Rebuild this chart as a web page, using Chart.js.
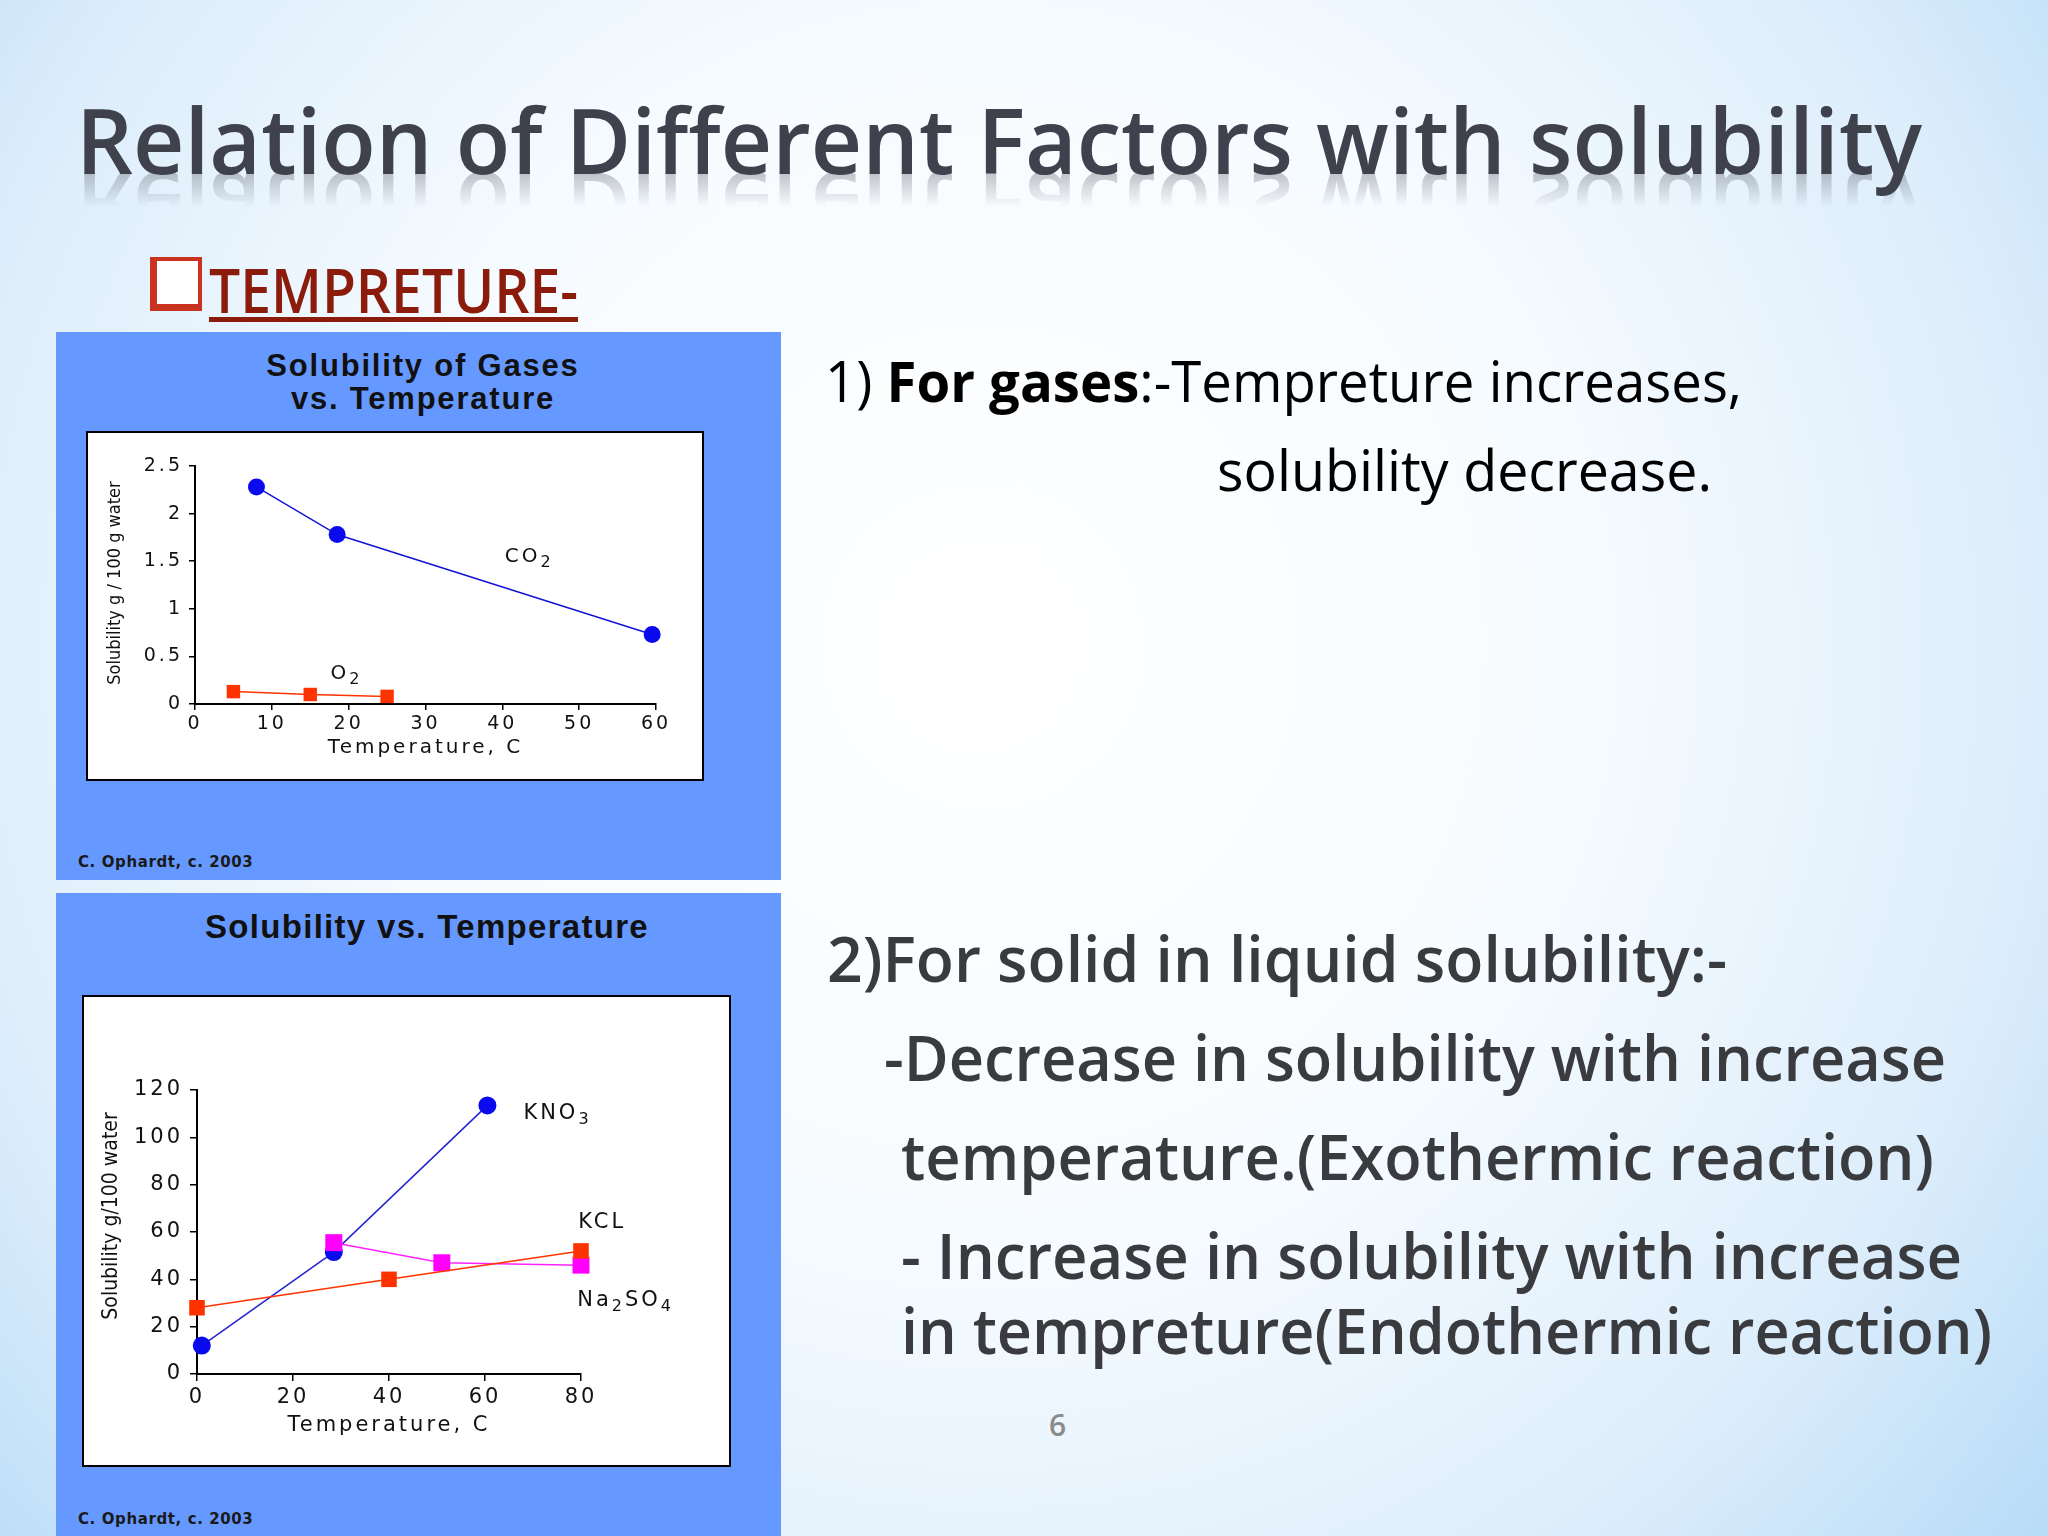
<!DOCTYPE html>
<html>
<head>
<meta charset="utf-8">
<script src="https://cdn.jsdelivr.net/npm/chart.js@4.4.0/dist/chart.umd.min.js"></script>
<style>
  html, body { margin: 0; padding: 0; }
  body {
    width: 2048px; height: 1536px; position: relative; overflow: hidden;
    font-family: "Open Sans", sans-serif;
    background: radial-gradient(ellipse 74% 100% at 48% 42%, #ffffff 0%, #f6fbff 40%, #dcedfb 70%, #a7d4f6 100%);
  }
  .t { position: absolute; white-space: nowrap; line-height: 1; transform-origin: 0 0; }
  .panel { position: absolute; background: #6699ff; }
  .box { position: absolute; background: #fff; border: 2px solid #000; box-sizing: border-box; }
  .box canvas { position: absolute; left: 0; top: 0; }
  .ctitle { position: absolute; text-align: center; font-family: "Liberation Sans", Arial, sans-serif; font-weight: bold; color: #111; line-height: 1; }
  .credit { position: absolute; font-family: "DejaVu Sans", sans-serif; font-size: 15px; font-weight: bold; letter-spacing: 0.6px; color: #1a1a1a; line-height: 1; }
</style>
</head>
<body>

<div class="t" id="title" style="left:76px;top:94px;font-size:90px;font-weight:600;color:#3f424c;-webkit-box-reflect: below -22px linear-gradient(transparent 50%, rgba(0,0,0,0.4));">Relation of Different Factors with solubility</div>

<div style="position:absolute;left:150px;top:257px;width:52px;height:54px;box-sizing:border-box;border:4px solid #c8321e;border-left-width:7px;border-bottom-width:7px;background:#fff;"></div>
<div class="t" id="temp" style="left:209px;top:258px;font-size:62px;font-weight:600;color:#8b1c0c;">TEMPRETURE-</div>
<div style="position:absolute;left:209px;top:317px;width:369px;height:5px;background:#8b1c0c;"></div>

<div class="panel" style="left:56px;top:332px;width:725px;height:548px;"></div>
<div class="ctitle" style="left:123px;top:350px;width:600px;font-size:31px;letter-spacing:1.8px;">Solubility of Gases</div>
<div class="ctitle" style="left:123px;top:383px;width:600px;font-size:31px;letter-spacing:1.8px;">vs. Temperature</div>
<div class="box" style="left:86px;top:431px;width:618px;height:350px;"><canvas id="gasChart" width="614" height="346"></canvas></div>
<div class="credit" style="left:78px;top:855px;">C. Ophardt, c. 2003</div>

<div class="panel" style="left:56px;top:893px;width:725px;height:643px;"></div>
<div class="ctitle" style="left:127px;top:910px;width:600px;font-size:33px;letter-spacing:1.3px;">Solubility vs. Temperature</div>
<div class="box" style="left:82px;top:995px;width:649px;height:472px;"><canvas id="solidChart" width="645" height="468"></canvas></div>
<div class="credit" style="left:78px;top:1512px;">C. Ophardt, c. 2003</div>

<div class="t" id="l1" style="left:825px;top:352px;font-size:56px;color:#000;">1) <b>For gases</b>:-Tempreture increases,</div>
<div class="t" id="l2" style="left:1217px;top:441px;font-size:56px;color:#000;">solubility decrease.</div>

<div class="t" id="s1" style="left:827px;top:926px;font-size:63px;font-weight:600;color:#3a3b3e;">2)For solid in liquid solubility:-</div>
<div class="t" id="s2" style="left:884px;top:1025px;font-size:63px;font-weight:600;color:#3a3b3e;">-Decrease in solubility with increase</div>
<div class="t" id="s3" style="left:901px;top:1124px;font-size:63px;font-weight:600;color:#3a3b3e;">temperature.(Exothermic reaction)</div>
<div class="t" id="s4" style="left:901px;top:1223px;font-size:63px;font-weight:600;color:#3a3b3e;">- Increase in solubility with increase</div>
<div class="t" id="s5" style="left:901px;top:1298px;font-size:63px;font-weight:600;color:#3a3b3e;">in tempreture(Endothermic reaction)</div>
<div class="t" style="left:1049px;top:1410px;font-size:30px;font-weight:600;color:#8a8a8a;">6</div>

<script>
// gases chart data
const co2Temp = [8, 18.5, 59.5];
const co2Sol = [2.28, 1.78, 0.73];
const o2Temp = [5, 15, 25];
const o2Sol = [0.13, 0.10, 0.08];
const gasLabels = [
  { text: 'CO_2', x: 43.5, y: 1.55 },
  { text: 'O_2', x: 19.7, y: 0.32 }
];

// solids chart data
const kno3Temp = [1, 28.5, 60.5];
const kno3Sol = [12, 51.5, 113.5];
const kclTemp = [0, 40, 80];
const kclSol = [28, 40, 52];
const na2so4Temp = [28.5, 51, 80];
const na2so4Sol = [55.5, 47, 46];
const solidLabels = [
  { text: 'KNO_3', x: 75.1, y: 110 },
  { text: 'KCL', x: 84.4, y: 64.1 },
  { text: 'Na_2SO_4', x: 89.3, y: 31 }
];

function pts(xs, ys) { return xs.map((x, i) => ({ x: x, y: ys[i] })); }

// split "Na_2SO_4" into normal and subscript runs
function runs(s) {
  const out = [];
  let i = 0;
  while (i < s.length) {
    if (s[i] === '_') { out.push([s[i + 1], true]); i += 2; }
    else { let j = i; while (j < s.length && s[j] !== '_') j++; out.push([s.slice(i, j), false]); i = j; }
  }
  return out;
}

const labelPlugin = {
  id: 'lbl',
  beforeUpdate(chart, args, opts) { chart.ctx.letterSpacing = opts.spacing; },
  beforeDraw(chart, args, opts) { chart.ctx.letterSpacing = opts.spacing; },
  afterDatasetsDraw(chart, args, opts) {
    const ctx = chart.ctx, sx = chart.scales.x, sy = chart.scales.y;
    const big = opts.size + 'px "DejaVu Sans"', small = Math.round(opts.size * 0.78) + 'px "DejaVu Sans"';
    ctx.save();
    ctx.fillStyle = '#111';
    ctx.textAlign = 'left';
    ctx.textBaseline = 'middle';
    opts.items.forEach(it => {
      const parts = runs(it.text);
      let w = 0;
      parts.forEach(p => { ctx.font = p[1] ? small : big; w += ctx.measureText(p[0]).width; });
      let px = sx.getPixelForValue(it.x) - w / 2;
      const py = sy.getPixelForValue(it.y);
      parts.forEach(p => {
        ctx.font = p[1] ? small : big;
        ctx.fillText(p[0], px, p[1] ? py + opts.size * 0.3 : py);
        px += ctx.measureText(p[0]).width;
      });
    });
    ctx.restore();
  },
  afterDraw(chart, args, opts) {
    const ctx = chart.ctx, yt = opts.yTitle;
    ctx.save();
    ctx.letterSpacing = '0px';
    ctx.font = yt.font;
    ctx.fillStyle = '#111';
    ctx.textAlign = 'center';
    ctx.textBaseline = 'middle';
    ctx.translate(yt.x, yt.y);
    ctx.rotate(-Math.PI / 2);
    ctx.fillText(yt.text, 0, 0);
    ctx.restore();
  }
};

function axis(min, max, step, fontSize, padding, tickLen, fit, title, titleSize, titlePad) {
  return {
    type: 'linear', min: min, max: max,
    ticks: { stepSize: step, autoSkip: false, maxRotation: 0, color: '#111', padding: padding,
             font: { family: 'DejaVu Sans', size: fontSize },
             callback: v => String(Math.round(v * 10) / 10) },
    grid: { display: true, drawOnChartArea: false, drawTicks: true, tickLength: tickLen, color: '#000', lineWidth: 1.5 },
    border: { display: true, color: '#000', width: 2 },
    title: { display: !!title, text: title || '', color: '#111', font: { family: 'DejaVu Sans', size: titleSize }, padding: titlePad },
    afterFit: fit
  };
}

new Chart(document.getElementById('gasChart'), {
  type: 'scatter',
  data: {
    datasets: [
      { data: pts(co2Temp, co2Sol), showLine: true, borderColor: '#1414d8', backgroundColor: '#0a0aee',
        borderWidth: 1.5, pointRadius: 8.5, pointStyle: 'circle', pointBorderWidth: 0, clip: false },
      { data: pts(o2Temp, o2Sol), showLine: true, borderColor: '#ff3300', backgroundColor: '#ff3300',
        borderWidth: 1.5, pointRadius: 9.5, pointStyle: 'rect', pointBorderWidth: 0, clip: false }
    ]
  },
  options: {
    responsive: false, animation: false,
    layout: { padding: { top: 33, right: 46, left: 0, bottom: 0 } },
    plugins: { legend: { display: false }, tooltip: { enabled: false },
      lbl: { items: gasLabels, size: 20, spacing: '3px',
             yTitle: { text: 'Solubility g / 100 g water', x: 27, y: 150,
                       font: '18px "Liberation Sans Narrow", "DejaVu Sans Condensed", sans-serif' } } },
    scales: {
      x: axis(0, 60, 10, 19, 3, 6, s => { s.height = 75; }, 'Temperature, C', 20, { top: 0, bottom: 19 }),
      y: axis(0, 2.5, 0.5, 19, 6, 6, s => { s.width = 107; })
    }
  },
  plugins: [labelPlugin]
});

new Chart(document.getElementById('solidChart'), {
  type: 'scatter',
  data: {
    datasets: [
      { data: pts(kclTemp, kclSol), showLine: true, borderColor: '#ff3300', backgroundColor: '#ff3300',
        borderWidth: 1.5, pointRadius: 11, pointStyle: 'rect', pointBorderWidth: 0, clip: false },
      { data: pts(na2so4Temp, na2so4Sol), showLine: true, borderColor: '#ff22ff', backgroundColor: '#ff00ff',
        borderWidth: 1.5, pointRadius: 12, pointStyle: 'rect', pointBorderWidth: 0, clip: false },
      { data: pts(kno3Temp, kno3Sol), showLine: true, borderColor: '#2424d0', backgroundColor: '#0a0aee',
        borderWidth: 1.5, pointRadius: 9, pointStyle: 'circle', pointBorderWidth: 0, clip: false }
    ]
  },
  options: {
    responsive: false, animation: false,
    layout: { padding: { top: 93, right: 148, left: 0, bottom: 0 } },
    plugins: { legend: { display: false }, tooltip: { enabled: false },
      lbl: { items: solidLabels, size: 21, spacing: '3px',
             yTitle: { text: 'Solubility g/100 water', x: 28, y: 219,
                       font: '21px "Liberation Sans Narrow", "DejaVu Sans Condensed", sans-serif' } } },
    scales: {
      x: axis(0, 80, 20, 21, 4, 7, s => { s.height = 91; }, 'Temperature, C', 21, { top: 0, bottom: 27 }),
      y: axis(0, 120, 20, 21, 7, 7, s => { s.width = 113; })
    }
  },
  plugins: [labelPlugin]
});

// squeeze slide text to the widths in the original
const widths = { title: 1846, temp: 369, l1: 917, l2: 495, s1: 900, s2: 1062, s3: 1033, s4: 1061, s5: 1091 };
Object.keys(widths).forEach(id => {
  const el = document.getElementById(id);
  const w = el.getBoundingClientRect().width;
  el.style.transform = 'scaleX(' + (widths[id] / w) + ')';
});
</script>
</body>
</html>
